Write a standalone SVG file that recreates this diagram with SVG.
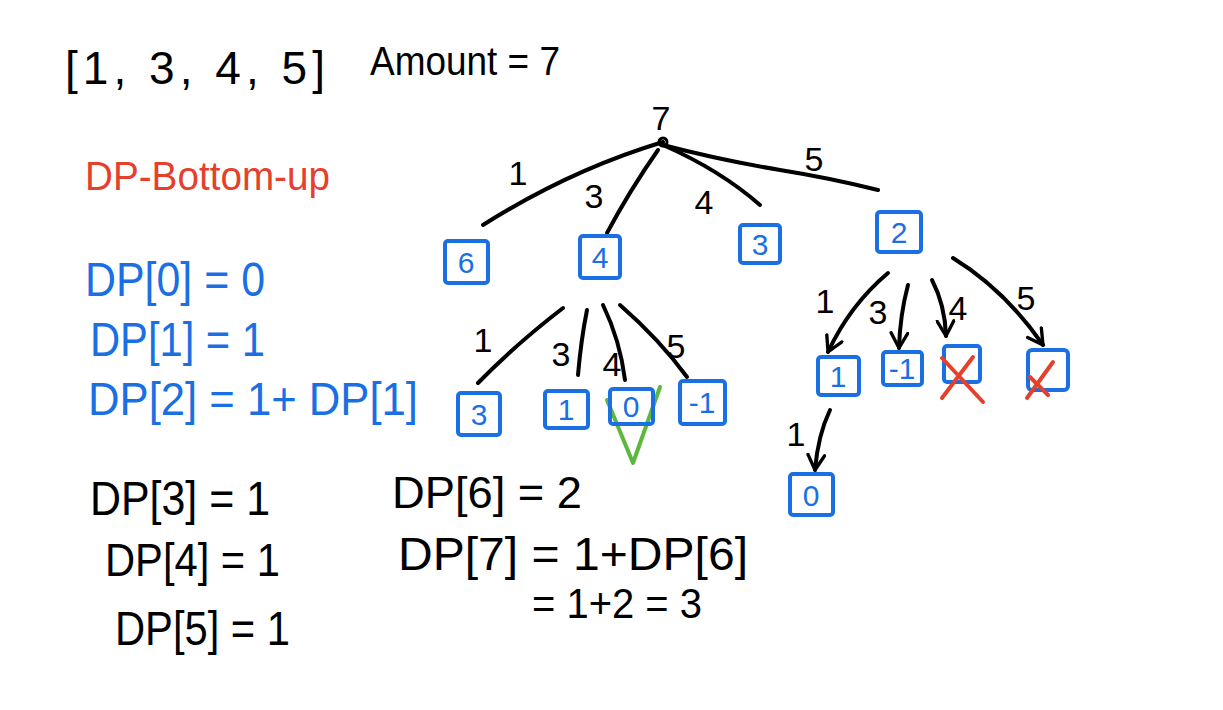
<svg xmlns="http://www.w3.org/2000/svg" width="1223" height="710" viewBox="0 0 1223 710">
<style>
text{font-family:"Liberation Sans","DejaVu Sans",sans-serif;}
.k{fill:#000;}
.b{fill:#1a6fe3;}
.r{fill:#e5402c;}
.box{fill:none;stroke:#1a6fe3;stroke-width:4;stroke-linejoin:round;}
.bl{font-size:30px;fill:#1a6fe3;text-anchor:middle;}
.e{fill:none;stroke:#000;stroke-width:4;stroke-linecap:round;}
.lab{font-size:34px;fill:#000;text-anchor:middle;}
.x{fill:none;stroke:#e5402c;stroke-width:4;stroke-linecap:round;}
</style>
<defs>
<marker id="arr" viewBox="0 0 12 12" refX="10" refY="6" markerWidth="5" markerHeight="5" markerUnits="strokeWidth" orient="auto">
<path d="M1,1 L10,6 L1,11" fill="none" stroke="#000" stroke-width="2" stroke-linecap="round" stroke-linejoin="round"/>
</marker>
</defs>
<rect width="1223" height="710" fill="#fff"/>

<g id="notes">
<text class="k" x="65" y="84" font-size="46" textLength="260" lengthAdjust="spacing">[1, 3, 4, 5]</text>
<text class="k" x="370" y="75" font-size="40" textLength="190" lengthAdjust="spacingAndGlyphs">Amount = 7</text>
<text class="r" x="85" y="190" font-size="40" textLength="245" lengthAdjust="spacingAndGlyphs">DP-Bottom-up</text>
<text class="b" x="85" y="296" font-size="48" textLength="180" lengthAdjust="spacingAndGlyphs">DP[0] = 0</text>
<text class="b" x="90" y="356" font-size="48" textLength="175" lengthAdjust="spacingAndGlyphs">DP[1] = 1</text>
<text class="b" x="88" y="415" font-size="46" textLength="330" lengthAdjust="spacingAndGlyphs">DP[2] = 1+ DP[1]</text>
<text class="k" x="90" y="515" font-size="48" textLength="180" lengthAdjust="spacingAndGlyphs">DP[3] = 1</text>
<text class="k" x="105" y="576" font-size="46" textLength="175" lengthAdjust="spacingAndGlyphs">DP[4] = 1</text>
<text class="k" x="115" y="645" font-size="48" textLength="175" lengthAdjust="spacingAndGlyphs">DP[5] = 1</text>
<text class="k" x="392" y="508" font-size="44" textLength="190" lengthAdjust="spacingAndGlyphs">DP[6] = 2</text>
<text class="k" x="398" y="570" font-size="46" textLength="350" lengthAdjust="spacingAndGlyphs">DP[7] = 1+DP[6]</text>
<text class="k" x="532" y="618" font-size="42" textLength="170" lengthAdjust="spacingAndGlyphs">= 1+2 = 3</text>
</g>

<g id="connectors">
<path class="e" d="M663,142 Q570,170 483,225"/>
<path class="e" d="M658,150 Q630,190 607,233"/>
<path class="e" d="M663,145 Q720,170 760,205"/>
<path class="e" d="M663,145 Q720,160 780,170 Q830,178 878,190"/>
<path class="e" d="M563,308 Q515,345 478,383"/>
<path class="e" d="M587,310 Q581,340 578,375"/>
<path class="e" d="M603,305 Q620,340 625,380"/>
<path class="e" d="M620,305 Q660,340 687,377"/>
<path class="e" d="M888,273 Q850,305 828,352" marker-end="url(#arr)"/>
<path class="e" d="M908,285 Q900,315 899,348" marker-end="url(#arr)"/>
<path class="e" d="M932,280 Q945,305 946,336" marker-end="url(#arr)"/>
<path class="e" d="M953,258 Q1005,290 1043,345" marker-end="url(#arr)"/>
<path class="e" d="M830,410 Q818,435 815,470" marker-end="url(#arr)"/>
<path d="M607,400 L633,463 L660,387" fill="none" stroke="#5cb83c" stroke-width="4" stroke-linecap="round" stroke-linejoin="round"/>
</g>

<g id="root">
<text class="lab" x="661" y="130" font-size="44">7</text>
<circle cx="663" cy="142" r="4" fill="none" stroke="#000" stroke-width="3"/>
</g>

<g id="edge-labels">
<text class="lab" x="518" y="185">1</text>
<text class="lab" x="594" y="208">3</text>
<text class="lab" x="704" y="214">4</text>
<text class="lab" x="814" y="171">5</text>
<text class="lab" x="483" y="352" font-size="28">1</text>
<text class="lab" x="561" y="366" font-size="28">3</text>
<text class="lab" x="612" y="376" font-size="28">4</text>
<text class="lab" x="676" y="358" font-size="28">5</text>
<text class="lab" x="825" y="313" font-size="30">1</text>
<text class="lab" x="878" y="324" font-size="30">3</text>
<text class="lab" x="958" y="320" font-size="30">4</text>
<text class="lab" x="1026" y="310" font-size="30">5</text>
<text class="lab" x="796" y="446" font-size="30">1</text>
</g>

<g id="n6"><rect class="box" x="445" y="241" width="43" height="42" rx="3"/><text class="bl" x="466" y="273">6</text></g>
<g id="n4"><rect class="box" x="580" y="236" width="40" height="42" rx="3"/><text class="bl" x="600" y="268">4</text></g>
<g id="n3"><rect class="box" x="740" y="225" width="40" height="38" rx="3"/><text class="bl" x="760" y="255">3</text></g>
<g id="n2"><rect class="box" x="877" y="212" width="44" height="40" rx="3"/><text class="bl" x="899" y="243">2</text></g>

<g id="n4-3"><rect class="box" x="458" y="393" width="42" height="42" rx="3"/><text class="bl" x="479" y="425">3</text></g>
<g id="n4-1"><rect class="box" x="545" y="391" width="43" height="37" rx="3"/><text class="bl" x="566" y="420">1</text></g>
<g id="n4-0"><rect class="box" x="610" y="389" width="43" height="35" rx="3"/><text class="bl" x="631" y="417">0</text></g>
<g id="n4-m1"><rect class="box" x="680" y="381" width="45" height="43" rx="3"/><text class="bl" x="702" y="413">-1</text></g>

<g id="n2-1"><rect class="box" x="818" y="357" width="41" height="38" rx="3"/><text class="bl" x="838" y="387">1</text></g>
<g id="n2-m1"><rect class="box" x="883" y="352" width="39" height="33" rx="3"/><text class="bl" x="902" y="379" font-size="26">-1</text></g>
<g id="n2-x1"><rect class="box" x="944" y="346" width="36" height="36" rx="3"/><path class="x" d="M942,358 L983,402 M973,357 L942,398"/></g>
<g id="n2-x2"><rect class="box" x="1028" y="350" width="40" height="40" rx="4"/><path class="x" d="M1027,398 L1053,362 M1030,377 L1048,395"/></g>

<g id="n1-0"><rect class="box" x="790" y="474" width="43" height="41" rx="3"/><text class="bl" x="811" y="506">0</text></g>
</svg>
